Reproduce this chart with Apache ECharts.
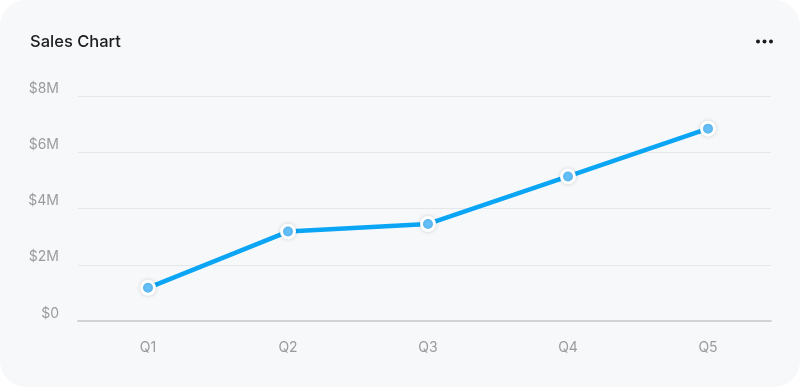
<!DOCTYPE html>
<html>
<head>
<meta charset="utf-8">
<script src="https://cdn.jsdelivr.net/npm/echarts@6/dist/echarts.min.js"></script>
<style>
  html, body { margin: 0; padding: 0; background: #ffffff; }
  #card { width: 800px; height: 387px; background: #f7f8fa; border-radius: 26px; overflow: hidden; }
  #chart { width: 800px; height: 387px; }
</style>
</head>
<body>
<div id="card"><div id="chart"></div></div>
<script>
const categories = ['Q1', 'Q2', 'Q3', 'Q4', 'Q5'];
const salesValues = [1180000, 3180000, 3450000, 5140000, 6840000];
const yTickLabels = ['$0', '$2M', '$4M', '$6M', '$8M'];

const chart = echarts.init(document.getElementById('chart'), null, { renderer: 'canvas' });
const font = 'Inter, "Noto Sans", sans-serif';

chart.setOption({
  backgroundColor: 'transparent',
  title: {
    text: 'Sales Chart',
    left: 25,
    top: 29,
    textStyle: { fontFamily: font, fontSize: 16.5, fontWeight: 500, color: '#1c1c1e' }
  },
  graphic: [
    { type: 'circle', shape: { cx: 758, cy: 41.5, r: 2 }, style: { fill: '#1c1c1e' } },
    { type: 'circle', shape: { cx: 764.5, cy: 41.5, r: 2 }, style: { fill: '#1c1c1e' } },
    { type: 'circle', shape: { cx: 771, cy: 41.5, r: 2 }, style: { fill: '#1c1c1e' } }
  ],
  grid: { left: 78, right: 29, top: 96, bottom: 66, containLabel: false },
  xAxis: {
    type: 'value',
    min: -0.5,
    max: 4.45,
    splitLine: { show: false },
    axisTick: { show: false },
    axisLine: { show: true, lineStyle: { color: '#d2d3d6', width: 2 } },
    axisLabel: {
      customValues: categories.map((c, i) => i),
      formatter: v => categories[Math.round(v)] || '',
      margin: 20,
      color: '#9b9b9f',
      fontFamily: font,
      fontSize: 14
    }
  },
  yAxis: {
    type: 'value',
    min: 0,
    max: 8000000,
    interval: 2000000,
    axisLine: { show: false },
    axisTick: { show: false },
    splitLine: { lineStyle: { color: '#e6e7ea', width: 1 } },
    axisLabel: {
      formatter: v => yTickLabels[Math.round(v / 2000000)],
      margin: 19,
      color: '#9b9b9f',
      fontFamily: font,
      fontSize: 14,
      verticalAlign: 'bottom',
      lineHeight: 15
    }
  },
  series: [{
    type: 'line',
    data: salesValues.map((v, i) => [i, v]),
    symbol: 'circle',
    symbolSize: 13,
    lineStyle: { color: '#0aa5f5', width: 4.5 },
    itemStyle: {
      color: '#64c3fc',
      borderColor: '#ffffff',
      borderWidth: 3,
      shadowBlur: 4,
      shadowColor: 'rgba(0,0,0,0.15)'
    },
    z: 3,
    animation: false
  }],
  animation: false
});
</script>
</body>
</html>
